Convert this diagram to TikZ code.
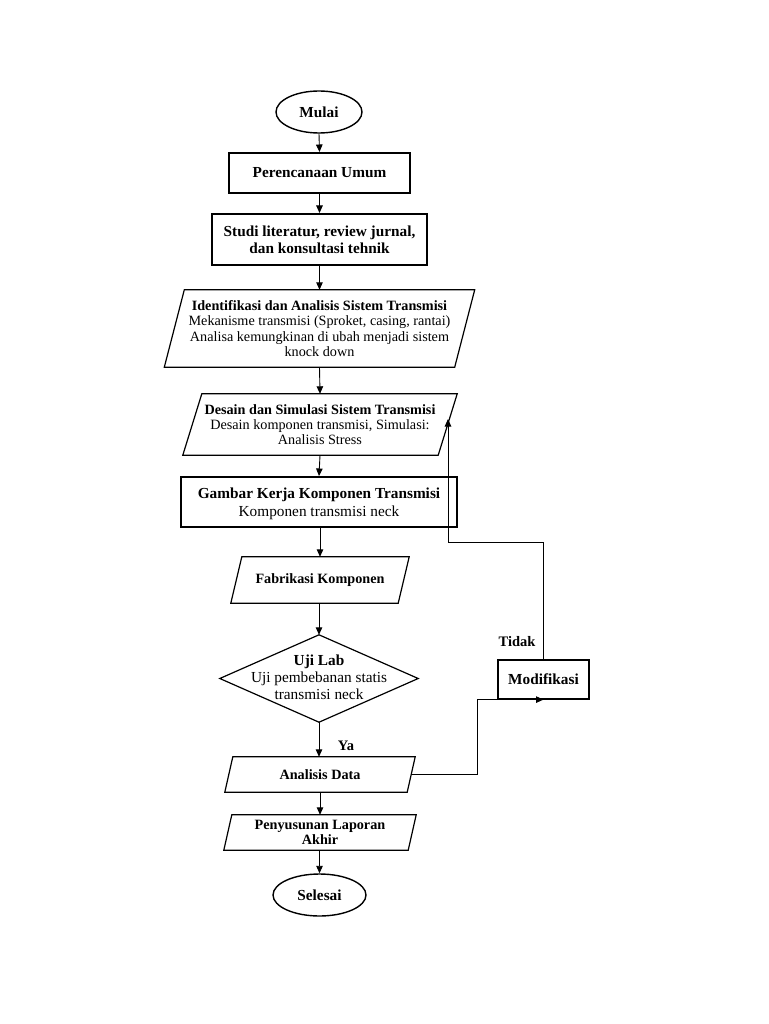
\documentclass[tikz,border=0pt]{standalone}
\usepackage{fontspec}
\setmainfont{Liberation Serif}
\usetikzlibrary{shapes.geometric,arrows.meta}
\tikzset{
  big/.style={font=\fontsize{15.3}{17}\selectfont},
  small/.style={font=\fontsize{14.2}{15.3}\selectfont},
  oval/.style={ellipse,draw,line width=1.4pt,inner sep=0pt,align=center},
  thickbox/.style={rectangle,draw,line width=2pt,inner sep=0pt,align=center},
  thinbox/.style={rectangle,draw,line width=1.2pt,inner sep=0pt,align=center},
  plain/.style={rectangle,draw=none,inner sep=0pt,align=center},
  para/.style={line width=1.2pt,line join=miter},
  arrow/.style={line width=0.9pt,-{Triangle[length=7.5pt,width=6.5pt]}},
  line/.style={line width=0.9pt},
  lbl/.style={font=\fontsize{14.5}{16}\selectfont\bfseries,inner sep=0pt}
}
\newcommand{\drawpara}[2]{%
  \draw[para] ([xshift=#2pt]#1.north west) -- ([xshift=#2pt]#1.north east)
    -- ([xshift=-#2pt]#1.south east) -- ([xshift=-#2pt]#1.south west) -- cycle;}
\begin{document}
\begin{tikzpicture}[x=1pt,y=-1pt]
\useasboundingbox (0,0) rectangle (768,1024);
\fill[white] (0,0) rectangle (768,1024);

\node[oval,big,minimum width=86pt,minimum height=42pt] (mulai) at (319,112) {\bfseries Mulai};
\node[thickbox,big,minimum width=181pt,minimum height=40pt] (renc) at (319.5,173) {\bfseries Perencanaan Umum};
\node[thickbox,big,minimum width=215pt,minimum height=51pt] (studi) at (319.5,239.5) {\bfseries Studi literatur, review jurnal,\\\bfseries dan konsultasi tehnik};
\node[plain,small,minimum width=290pt,minimum height=77pt] (ident) at (319.5,328.5) {\bfseries Identifikasi dan Analisis Sistem Transmisi\\Mekanisme transmisi (Sproket, casing, rantai)\\Analisa kemungkinan di ubah menjadi sistem\\knock down};
\drawpara{ident}{10}
\node[plain,small,minimum width=255pt,minimum height=61pt] (desain) at (320,424.5) {\bfseries Desain dan Simulasi Sistem Transmisi\\Desain komponen transmisi, Simulasi:\\Analisis Stress};
\drawpara{desain}{9.5}
\node[thickbox,big,minimum width=276pt,minimum height=50pt] (gambar) at (319,502) {};
\node[plain,big] (gambartxt) at (319,503.5) {\bfseries Gambar Kerja Komponen Transmisi\\[1pt]Komponen transmisi neck};
\node[plain,small,minimum width=167pt,minimum height=46pt] (fab) at (320,580) {\bfseries Fabrikasi Komponen};
\drawpara{fab}{5.5}
\node[plain,big,minimum width=198pt,minimum height=87pt] (uji) at (319,678.5) {};
\draw[para] (uji.north) -- (uji.east) -- (uji.south) -- (uji.west) -- cycle;
\node[plain,big] (ujitxt) at (319,677) {\bfseries Uji Lab\\Uji pembebanan statis\\transmisi neck};
\node[plain,small,minimum width=182pt,minimum height=35pt] (ad) at (320,774.5) {\bfseries Analisis Data};
\drawpara{ad}{4}
\node[plain,small,minimum width=184pt,minimum height=35pt] (pen) at (320,832.5) {\bfseries Penyusunan Laporan\\\bfseries Akhir};
\drawpara{pen}{4}
\node[oval,big,minimum width=93pt,minimum height=42pt] (selesai) at (319.5,895) {\bfseries Selesai};
\node[thinbox,big,minimum width=91pt,minimum height=39pt] (mod) at (543.5,679.5) {\bfseries Modifikasi};

\node[lbl] (tidak) at (517,642) {Tidak};
\node[lbl] (ya) at (346,746) {Ya};

\draw[arrow] (mulai.south) -- (renc.north);
\draw[arrow] (renc.south) -- (studi.north);
\draw[arrow] (studi.south) -- (ident.north);
\draw[arrow] (ident.south) -- (desain.north);
\draw[arrow] (desain.south) -- (gambar.north);
\draw[arrow] (gambar.south -| fab.north) -- (fab.north);
\draw[arrow] (fab.south -| uji.north) -- (uji.north);
\draw[arrow] (uji.south) -- (uji.south |- ad.north);
\draw[arrow] (ad.south) -- (pen.south |- pen.north);
\draw[arrow] (pen.south -| selesai.north) -- (selesai.north);

\coordinate (fb) at (448,419);
\draw[arrow] (ad.east) -- ++(66,0) |- (mod.south);
\draw[arrow] (mod.north) -- ++(0,-117) -| (fb);
\end{tikzpicture}
\end{document}
